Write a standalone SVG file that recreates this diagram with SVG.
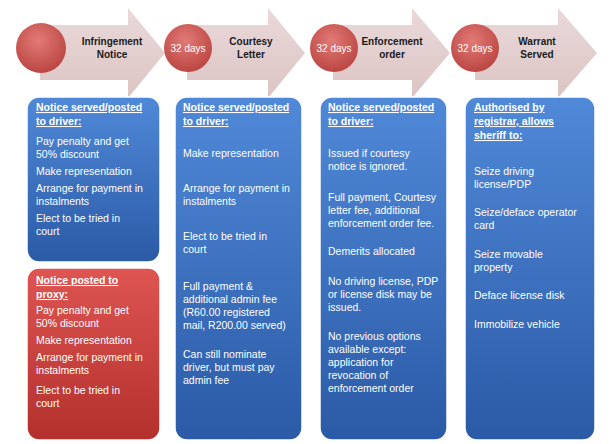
<svg xmlns="http://www.w3.org/2000/svg" width="613" height="444" viewBox="0 0 613 444">
<defs>
<linearGradient id="ga" x1="0" y1="0" x2="0" y2="1"><stop offset="0" stop-color="#ead9d9"/><stop offset="1" stop-color="#dcc4c4"/></linearGradient>
<radialGradient id="gc" cx="0.45" cy="0.35" r="0.7"><stop offset="0" stop-color="#e27a76"/><stop offset="1" stop-color="#b8423e"/></radialGradient>
<linearGradient id="gb" x1="0" y1="0" x2="0" y2="1"><stop offset="0" stop-color="#5089d8"/><stop offset="1" stop-color="#2b5aa6"/></linearGradient>
<linearGradient id="gr" x1="0" y1="0" x2="0" y2="1"><stop offset="0" stop-color="#de5552"/><stop offset="1" stop-color="#b3302c"/></linearGradient>
<style>
text{font-family:"Liberation Sans",Arial,sans-serif;font-size:10.5px}
.h{font-weight:bold;fill:#1a1a1a;text-anchor:middle;font-size:10px}
.c{fill:#fff;text-anchor:middle;font-size:10px}
.t{fill:#fff}
.u{fill:#fff;font-weight:bold;text-decoration:underline}
.box{stroke:#fff;stroke-width:1.5}
</style>
</defs>
<g id="arrows">
<path d="M40,25 H128 V8 L165,53 L128,98 V80 H40 Z" fill="url(#ga)"/>
<path d="M187,25 H268 V8 L305,53 L268,98 V80 H187 Z" fill="url(#ga)"/>
<path d="M333,25 H412 V8 L450,53 L412,98 V80 H333 Z" fill="url(#ga)"/>
<path d="M475,25 H558 V8 L597,53 L558,98 V80 H475 Z" fill="url(#ga)"/>
</g>
<g id="step1"><circle cx="41" cy="48" r="25" fill="url(#gc)"/><text class="h" x="112" y="45">Infringement</text><text class="h" x="112" y="58">Notice</text></g>
<g id="step2"><circle cx="188" cy="48" r="24" fill="url(#gc)"/><text class="c" x="188" y="52">32 days</text><text class="h" x="251" y="45">Courtesy</text><text class="h" x="251" y="58">Letter</text></g>
<g id="step3"><circle cx="334" cy="48" r="24" fill="url(#gc)"/><text class="c" x="334" y="52">32 days</text><text class="h" x="392" y="45">Enforcement</text><text class="h" x="392" y="58">order</text></g>
<g id="step4"><circle cx="475" cy="48" r="24" fill="url(#gc)"/><text class="c" x="475" y="52">32 days</text><text class="h" x="537" y="45">Warrant</text><text class="h" x="537" y="58">Served</text></g>
<g id="box1"><rect class="box" x="27" y="97" width="133" height="165" rx="12" fill="url(#gb)"/>
<text x="36"><tspan class="u" x="36" y="111">Notice served/posted</tspan><tspan class="u" x="36" y="125">to driver:</tspan><tspan class="t" x="36" y="145">Pay penalty and get</tspan><tspan class="t" x="36" y="158">50% discount</tspan><tspan class="t" x="36" y="175">Make representation</tspan><tspan class="t" x="36" y="192">Arrange for payment in</tspan><tspan class="t" x="36" y="205">instalments</tspan><tspan class="t" x="36" y="222">Elect to be tried in</tspan><tspan class="t" x="36" y="235">court</tspan></text></g>
<g id="box2"><rect class="box" x="27" y="268" width="133" height="172" rx="12" fill="url(#gr)"/>
<text><tspan class="u" x="36" y="284">Notice posted to</tspan><tspan class="u" x="36" y="298">proxy:</tspan><tspan class="t" x="36" y="314">Pay penalty and get</tspan><tspan class="t" x="36" y="327">50% discount</tspan><tspan class="t" x="36" y="344">Make representation</tspan><tspan class="t" x="36" y="361">Arrange for payment in</tspan><tspan class="t" x="36" y="374">instalments</tspan><tspan class="t" x="36" y="394">Elect to be tried in</tspan><tspan class="t" x="36" y="407">court</tspan></text></g>
<g id="box3"><rect class="box" x="175" y="97" width="127" height="343" rx="12" fill="url(#gb)"/>
<text><tspan class="u" x="183" y="111">Notice served/posted</tspan><tspan class="u" x="183" y="125">to driver:</tspan><tspan class="t" x="183" y="157">Make representation</tspan><tspan class="t" x="183" y="192">Arrange for payment in</tspan><tspan class="t" x="183" y="205">instalments</tspan><tspan class="t" x="183" y="240">Elect to be tried in</tspan><tspan class="t" x="183" y="253">court</tspan><tspan class="t" x="183" y="290">Full payment &amp;</tspan><tspan class="t" x="183" y="303">additional admin fee</tspan><tspan class="t" x="183" y="316">(R60.00 registered</tspan><tspan class="t" x="183" y="329">mail, R200.00 served)</tspan><tspan class="t" x="183" y="358">Can still nominate</tspan><tspan class="t" x="183" y="371">driver, but must pay</tspan><tspan class="t" x="183" y="384">admin fee</tspan></text></g>
<g id="box4"><rect class="box" x="320" y="97" width="127" height="343" rx="12" fill="url(#gb)"/>
<text><tspan class="u" x="328" y="111">Notice served/posted</tspan><tspan class="u" x="328" y="125">to driver:</tspan><tspan class="t" x="328" y="157">Issued if courtesy</tspan><tspan class="t" x="328" y="170">notice is ignored.</tspan><tspan class="t" x="328" y="201">Full payment, Courtesy</tspan><tspan class="t" x="328" y="214">letter fee, additional</tspan><tspan class="t" x="328" y="227">enforcement order fee.</tspan><tspan class="t" x="328" y="255">Demerits allocated</tspan><tspan class="t" x="328" y="285">No driving license, PDP</tspan><tspan class="t" x="328" y="298">or license disk may be</tspan><tspan class="t" x="328" y="311">issued.</tspan><tspan class="t" x="328" y="340">No previous options</tspan><tspan class="t" x="328" y="353">available except:</tspan><tspan class="t" x="328" y="366">application for</tspan><tspan class="t" x="328" y="379">revocation of</tspan><tspan class="t" x="328" y="392">enforcement order</tspan></text></g>
<g id="box5"><rect class="box" x="465" y="97" width="130" height="343" rx="12" fill="url(#gb)"/>
<text><tspan class="u" x="474" y="111">Authorised by</tspan><tspan class="u" x="474" y="125">registrar, allows</tspan><tspan class="u" x="474" y="139">sheriff to:</tspan><tspan class="t" x="474" y="175">Seize driving</tspan><tspan class="t" x="474" y="188">license/PDP</tspan><tspan class="t" x="474" y="216">Seize/deface operator</tspan><tspan class="t" x="474" y="229">card</tspan><tspan class="t" x="474" y="258">Seize movable</tspan><tspan class="t" x="474" y="271">property</tspan><tspan class="t" x="474" y="299">Deface license disk</tspan><tspan class="t" x="474" y="328">Immobilize vehicle</tspan></text></g>
</svg>
